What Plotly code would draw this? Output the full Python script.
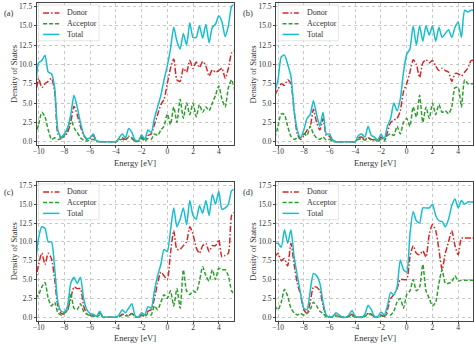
import plotly.graph_objects as go

# Energy grid (eV) shared by all four panels
energy = [-10.25, -10.0, -9.75, -9.5, -9.25, -9.0, -8.75, -8.5, -8.25, -8.0,
          -7.75, -7.5, -7.25, -7.0, -6.75, -6.5, -6.25, -6.0, -5.75, -5.5,
          -5.25, -5.0, -4.75, -4.5, -4.25, -4.0, -3.75, -3.5, -3.25, -3.0,
          -2.75, -2.5, -2.25, -2.0, -1.75, -1.5, -1.25, -1.0, -0.75, -0.5,
          -0.25, 0.0, 0.25, 0.5, 0.75, 1.0, 1.25, 1.5, 1.75, 2.0,
          2.25, 2.5, 2.75, 3.0, 3.25, 3.5, 3.75, 4.0, 4.25, 4.5,
          4.75, 5.0, 5.25]

# Panel (a)
donor_a = [5.5, 8.2, 7.0, 7.5, 7.8, 8.2, 6.5, 1.0, 0.5, 0.7,
           1.2, 2.5, 4.6, 3.5, 2.0, 0.8, 0.3, 0.4, 0.8, 0.05,
           0.0, 0.0, 0.0, 0.0, 0.0, 0.0, 0.3, 0.5, 0.3, 0.7,
           0.4, 0.1, 0.05, 0.6, 0.2, 0.8, 1.0, 2.2, 3.5, 4.8,
           5.5, 7.5, 9.5, 10.7, 8.0, 7.8, 9.5, 9.0, 10.5, 9.5,
           10.3, 9.6, 10.4, 9.8, 8.5, 9.3, 9.0, 9.2, 9.5, 8.2,
           9.5, 11.5, 11.8]
acceptor_a = [0.8, 2.2, 3.8, 3.2, 1.5, 0.3, 0.5, 0.3, 0.4, 0.8,
              1.5, 3.0, 1.8, 1.2, 0.5, 0.2, 0.1, 0.2, 0.3, 0.05,
              0.0, 0.0, 0.0, 0.0, 0.0, 0.0, 0.2, 0.3, 0.2, 0.6,
              0.5, 0.05, 0.05, 0.4, 0.1, 0.4, 0.3, 1.0, 0.8, 1.5,
              2.0, 3.6, 2.2, 4.5, 2.5, 5.5, 3.0, 5.0, 3.5, 5.0,
              3.2, 4.8, 3.8, 4.5, 4.0, 5.0, 6.0, 7.2, 5.5, 4.5,
              7.0, 8.0, 6.5]
total_a = [6.5, 10.2, 10.5, 11.2, 9.0, 8.8, 7.0, 1.5, 0.6, 1.0,
           1.8, 3.5, 6.0, 4.5, 2.5, 1.0, 0.4, 0.5, 1.0, 0.1,
           0.0, 0.0, 0.0, 0.0, 0.0, 0.0, 0.5, 1.0, 0.5, 1.7,
           1.2, 0.2, 0.1, 0.9, 0.3, 1.5, 1.2, 3.0, 4.5, 6.0,
           8.0, 9.8, 12.0, 14.8, 13.0, 12.0, 14.0, 12.5, 15.4, 13.5,
           13.5, 15.0, 13.4, 15.2, 12.8, 14.8, 15.2, 16.3, 15.5, 13.6,
           15.0, 17.5, 17.8]

# Panel (b)
donor_b = [6.0, 6.8, 7.5, 7.3, 8.0, 7.5, 4.0, 1.0, 0.3, 0.8,
           1.5, 2.0, 4.2, 2.5, 1.5, 3.0, 0.8, 0.7, 0.1, 0.0,
           0.0, 0.0, 0.0, 0.0, 0.0, 0.0, 0.5, 0.6, 0.3, 0.5,
           0.3, 0.2, 0.1, 0.6, 0.2, 1.2, 2.5, 2.8, 3.0, 4.0,
           6.5, 7.5, 9.0, 10.6, 10.0, 8.3, 10.2, 10.6, 10.2, 10.5,
           9.8, 9.2, 9.5, 9.2, 9.0, 7.8, 8.8, 8.8, 8.5, 9.0,
           9.5, 10.5, 10.5]
acceptor_b = [0.5, 2.0, 3.6, 3.5, 2.0, 0.7, 0.3, 0.5, 0.5, 1.0,
              0.8, 2.0, 1.0, 0.5, 0.3, 0.6, 0.2, 0.3, 0.05, 0.0,
              0.0, 0.0, 0.0, 0.0, 0.0, 0.0, 0.3, 0.4, 0.2, 0.5,
              0.2, 0.3, 0.05, 0.3, 0.1, 0.8, 1.0, 0.8, 2.0, 1.0,
              2.5, 3.0, 2.0, 4.5, 3.2, 6.0, 2.5, 4.5, 3.0, 5.0,
              3.5, 4.8, 3.8, 4.0, 3.6, 4.5, 7.0, 7.0, 4.5, 8.0,
              7.5, 7.5, 7.5]
total_b = [6.5, 8.0, 11.0, 11.2, 10.0, 8.5, 4.0, 1.5, 0.5, 1.5,
           3.0, 3.5, 5.3, 3.5, 2.0, 3.8, 1.0, 1.0, 0.2, 0.0,
           0.0, 0.0, 0.0, 0.0, 0.0, 0.0, 0.8, 1.0, 0.6, 2.0,
           0.8, 0.6, 0.2, 1.0, 0.3, 2.0, 3.0, 5.0, 4.0, 5.5,
           9.0, 11.3, 12.0, 15.0, 12.5, 15.0, 13.0, 15.0, 13.8, 15.0,
           13.0, 14.8, 13.5, 14.0, 14.5, 13.5, 14.8, 15.5, 13.5, 17.0,
           16.8, 17.0, 17.0]

# Panel (c)
donor_c = [4.5, 7.0, 8.5, 7.0, 8.5, 7.8, 5.0, 1.5, 0.5, 0.5,
           1.0, 2.5, 4.0, 3.8, 3.8, 1.5, 0.5, 0.3, 0.2, 0.05,
           0.6, 0.0, 0.0, 0.0, 0.0, 0.0, 0.1, 0.4, 0.3, 0.2,
           0.5, 0.1, 0.0, 0.3, 0.1, 0.8, 1.0, 2.5, 4.5, 6.0,
           5.5, 5.0, 8.5, 11.5, 9.0, 9.0, 9.5, 10.0, 12.0, 11.0,
           9.2, 8.5, 9.5, 9.8, 8.7, 9.5, 9.5, 10.3, 8.0, 8.2,
           8.5, 13.5, 14.0]
acceptor_c = [2.5, 3.0, 4.0, 4.6, 2.5, 1.5, 2.0, 0.6, 0.3, 0.6,
              0.8, 3.2, 1.2, 1.0, 1.8, 0.8, 0.4, 0.2, 0.2, 0.05,
              0.3, 0.0, 0.0, 0.0, 0.0, 0.0, 0.05, 0.3, 0.2, 0.2,
              0.5, 0.1, 0.0, 0.3, 0.1, 0.5, 0.3, 1.5, 1.0, 2.0,
              3.0, 2.5, 3.5, 1.5, 3.8, 1.2, 6.3, 3.5, 3.0, 3.5,
              3.3, 4.8, 6.7, 5.5, 4.8, 6.3, 5.0, 6.5, 6.3, 6.3,
              5.5, 3.5, 3.0]
total_c = [7.0, 10.5, 12.0, 11.8, 10.0, 10.0, 6.5, 2.0, 0.8, 0.7,
           1.5, 4.5, 5.3, 4.5, 5.3, 2.5, 1.0, 0.5, 0.4, 0.1,
           0.8, 0.0, 0.0, 0.0, 0.0, 0.0, 0.3, 1.0, 0.6, 1.2,
           1.8, 0.2, 0.0, 0.6, 0.3, 1.4, 1.2, 3.5, 5.5, 7.0,
           9.0, 8.7, 11.5, 14.5, 12.0, 13.0, 14.5, 12.3, 15.5, 13.5,
           13.0, 14.8, 13.8, 15.5, 13.5, 16.3, 15.0, 16.7, 14.3, 14.5,
           15.0, 16.8, 17.0]

# Panel (d)
donor_d = [8.0, 8.5, 7.5, 7.8, 6.8, 9.8, 7.0, 4.5, 3.0, 1.0,
           0.5, 2.0, 4.0, 4.0, 3.5, 1.5, 0.2, 0.0, 0.05, 0.3,
           0.1, 0.0, 0.0, 0.1, 0.4, 0.05, 0.0, 0.0, 0.2, 0.5,
           0.4, 0.1, 0.05, 0.3, 0.1, 1.0, 2.5, 3.0, 3.8, 5.0,
           5.0, 5.0, 8.0, 9.5, 8.5, 8.3, 8.8, 8.0, 11.0, 12.3,
           11.5, 9.0, 6.3, 8.5, 10.0, 11.5, 9.5, 8.3, 10.5, 10.5,
           10.5, 10.5, 10.5]
acceptor_d = [1.5, 1.0, 2.0, 3.7, 2.8, 1.2, 0.6, 0.3, 0.5, 0.3,
              0.5, 1.0, 2.0, 1.5, 0.8, 0.5, 0.1, 0.0, 0.0, 0.2,
              0.1, 0.0, 0.0, 0.1, 0.2, 0.0, 0.0, 0.0, 0.1, 0.5,
              0.3, 0.05, 0.0, 0.2, 0.1, 0.5, 0.3, 0.8, 2.0, 2.5,
              1.2, 3.0, 3.5, 5.0, 3.5, 4.0, 7.0, 3.5, 2.5, 1.5,
              2.0, 4.5, 6.3, 4.5, 4.5, 4.7, 5.5, 4.8, 4.9, 4.9,
              4.9, 4.9, 4.9]
total_d = [9.8, 9.8, 9.3, 11.6, 9.8, 11.6, 8.0, 5.5, 3.2, 1.2,
           1.0, 3.5, 5.8, 5.5, 4.5, 2.0, 0.3, 0.0, 0.1, 0.6,
           0.3, 0.0, 0.0, 0.3, 0.9, 0.1, 0.0, 0.0, 0.4, 1.6,
           1.0, 0.1, 0.1, 0.7, 0.3, 1.5, 3.3, 3.0, 4.0, 7.6,
           6.3, 6.0, 11.0, 14.0, 12.8, 12.5, 14.5, 14.5, 14.5, 15.0,
           13.5, 12.8, 12.7, 12.0, 13.0, 14.8, 15.7, 14.5, 15.5, 15.0,
           15.3, 15.3, 15.3]

panels = ["(a)", "(b)", "(c)", "(d)"]
series_names = ["Donor", "Acceptor", "Total"]
x_ticks = [-10, -8, -6, -4, -2, 0, 2, 4]
x_tick_text = ["\u221210", "\u22128", "\u22126", "\u22124", "\u22122", "0", "2", "4"]
y_ticks = [0.0, 2.5, 5.0, 7.5, 10.0, 12.5, 15.0, 17.5]
y_tick_text = ["0.0", "2.5", "5.0", "7.5", "10.0", "12.5", "15.0", "17.5"]

data = [
    (donor_a, acceptor_a, total_a),
    (donor_b, acceptor_b, total_b),
    (donor_c, acceptor_c, total_c),
    (donor_d, acceptor_d, total_d),
]

W, H = 474, 345
SERIF = "Liberation Serif, DejaVu Serif, serif"
colors = ["#d62728", "#2ca02c", "#17becf"]
dashes = ["6px,2px,1.5px,2px", "4px,2px", "solid"]

# Axes boxes in pixels: (left, right, top, bottom)
boxes = [(33, 232, 2, 145), (275, 474, 2, 145),
         (33, 232, 182, 321.5), (275, 474, 182, 321.5)]
# vertical pixel position of the x-axis title under each row
xtitle_y = [163, 163, 338.5, 338.5]


def fx(px):
    return px / W


def fy(py):
    return 1 - py / H


fig = go.Figure()
layout = dict(width=W, height=H, margin=dict(l=0, r=0, t=0, b=0),
              paper_bgcolor="white", plot_bgcolor="white",
              showlegend=False, font=dict(family=SERIF, size=8, color="#222"))
shapes = []
annotations = []

for i, (series, box) in enumerate(zip(data, boxes)):
    k = "" if i == 0 else str(i + 1)
    left, right, top, bottom = box
    for name, ys, c, d in zip(series_names, series, colors, dashes):
        fig.add_trace(go.Scatter(
            x=energy, y=ys, name=name, mode="lines",
            line=dict(color=c, width=1.5, dash=d, shape="spline", smoothing=0.6),
            xaxis="x" + k, yaxis="y" + k))

    axis_common = dict(showline=True, mirror=True, linecolor="#444", linewidth=1,
                       ticks="outside", ticklen=2, tickcolor="#444",
                       showgrid=True, gridcolor="#c8c8c8", griddash="dot", gridwidth=0.8,
                       zeroline=False, tickfont=dict(family=SERIF, size=7.5, color="#333"))
    layout["xaxis" + k] = dict(axis_common, domain=[fx(left), fx(right)],
                               anchor="y" + k, range=[-10.15, 5.15],
                               tickvals=x_ticks, ticktext=x_tick_text,
                               ticklabelstandoff=-3)
    layout["yaxis" + k] = dict(axis_common, domain=[fy(bottom), fy(top)],
                               anchor="x" + k, range=[-0.45, 17.95],
                               tickvals=y_ticks, ticktext=y_tick_text)

    # axis labels
    annotations.append(dict(text="Energy [eV]", x=fx((left + right) / 2), y=fy(xtitle_y[i]),
                            xref="paper", yref="paper", showarrow=False,
                            font=dict(family=SERIF, size=8.5, color="#333"),
                            xanchor="center", yanchor="middle"))
    annotations.append(dict(text="Density of States", x=fx(left - 23), y=fy((top + bottom) / 2),
                            xref="paper", yref="paper", showarrow=False, textangle=-90,
                            font=dict(family=SERIF, size=8.5, color="#333"),
                            xanchor="center", yanchor="middle"))
    annotations.append(dict(text=panels[i], x=fx(left - 28), y=fy(top + 10.5),
                            xref="paper", yref="paper", showarrow=False,
                            font=dict(family=SERIF, size=8.5, color="#333"),
                            xanchor="center", yanchor="middle"))

    # legend box with sample lines
    shapes.append(dict(type="rect", xref="paper", yref="paper",
                       x0=fx(left + 2), x1=fx(left + 63), y0=fy(top + 38), y1=fy(top + 2),
                       fillcolor="rgba(255,255,255,0.9)", line=dict(color="#dddddd", width=0.8),
                       layer="above"))
    for j, (name, c, d) in enumerate(zip(series_names, colors, dashes)):
        ry = top + 10 + 10.8 * j
        shapes.append(dict(type="line", xref="paper", yref="paper",
                           x0=fx(left + 6.5), x1=fx(left + 23), y0=fy(ry), y1=fy(ry),
                           line=dict(color=c, width=1.5, dash=d), layer="above"))
        annotations.append(dict(text=name, x=fx(left + 29), y=fy(ry),
                                xref="paper", yref="paper", showarrow=False,
                                font=dict(family=SERIF, size=8, color="#333"),
                                xanchor="left", yanchor="middle"))

layout["shapes"] = shapes
layout["annotations"] = annotations
fig.update_layout(**layout)
fig.write_html("out.html")
